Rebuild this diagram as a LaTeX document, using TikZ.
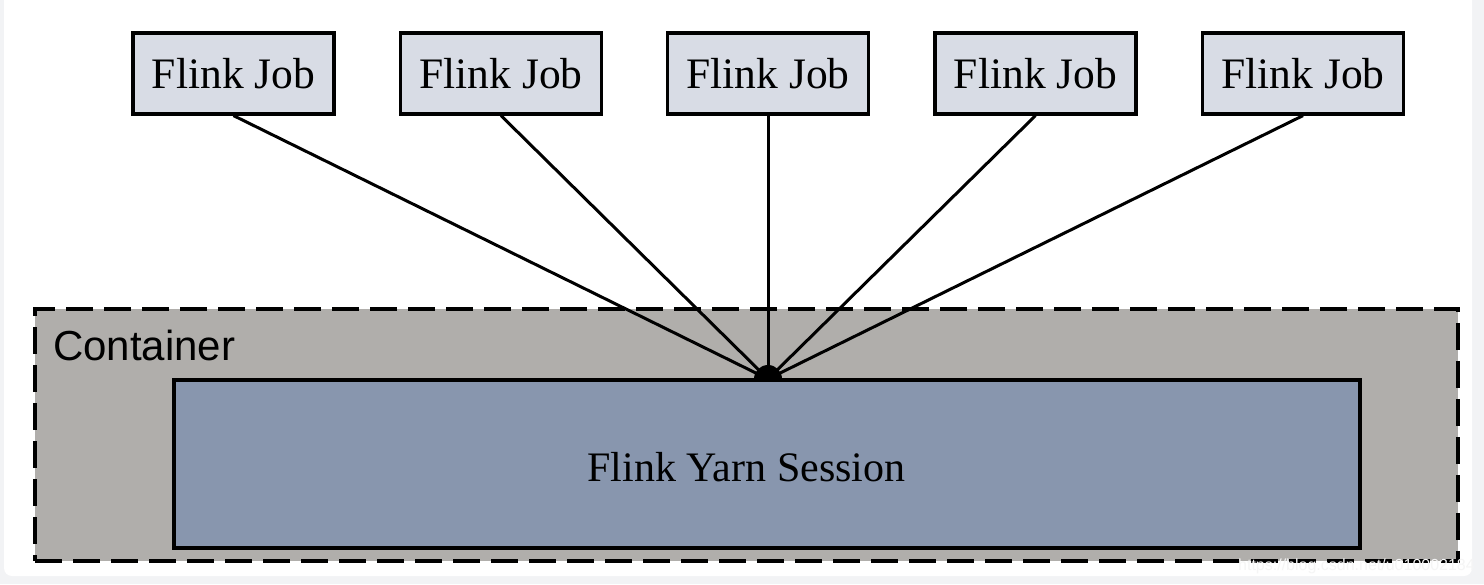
\documentclass[tikz,border=0pt]{standalone}
\usepackage{fontspec}
\setmainfont{Liberation Serif}
\newfontfamily\arialfont{Liberation Sans}
\definecolor{pagebg}{HTML}{F2F3F5}
\definecolor{jobfill}{HTML}{D8DCE5}
\definecolor{contfill}{HTML}{B0AEAB}
\definecolor{yarnfill}{HTML}{8896AE}
\begin{document}
\begin{tikzpicture}[x=1pt,y=-1pt,
  jobbox/.style={draw=black, line width=3.2pt, fill=jobfill, minimum width=201pt, minimum height=81pt, inner sep=0pt, font=\fontsize{43.5}{50}\selectfont},
  contbox/.style={draw=black, line width=3.6pt, dash pattern=on 27pt off 11pt, fill=contfill, minimum width=1423pt, minimum height=252pt, inner sep=0pt},
  yarnbox/.style={draw=black, line width=3.2pt, fill=yarnfill, minimum width=1186pt, minimum height=168pt, inner sep=0pt},
  link/.style={draw=black, line width=3pt}]
\useasboundingbox (0,0) rectangle (1484,584);
\fill[pagebg] (0,0) rectangle (1484,584);
\fill[white, rounded corners=8pt] (4,-20) rectangle (1472,576);
\node[contbox] (cont) at (746.5,435) {};
\node[anchor=base west, inner sep=0pt, font=\arialfont\fontsize{42}{48}\selectfont] (contlabel) at (53,360) {Container};
\foreach \i/\x in {1/233.5,2/501,3/768,4/1035.5,5/1303}{
  \node[jobbox] (job\i) at (\x,73.5) {Flink Job};
}
\coordinate (hub) at (768,379);
\foreach \i in {1,...,5}{
  \draw[link] (job\i.south) -- (hub);
}
\fill[black] (hub) circle (14pt);
\node[yarnbox] (yarn) at (767,464) {};
\node[anchor=base, inner sep=0pt, font=\fontsize{42}{48}\selectfont] (yarntext) at (746.5,481) {Flink Yarn Session};
\node[anchor=base east, inner sep=0pt, text=white!92!gray, font=\arialfont\fontsize{16}{18}\selectfont] (wm) at (1475,570) {https://blog.csdn.net/u010002184};
\end{tikzpicture}
\end{document}
